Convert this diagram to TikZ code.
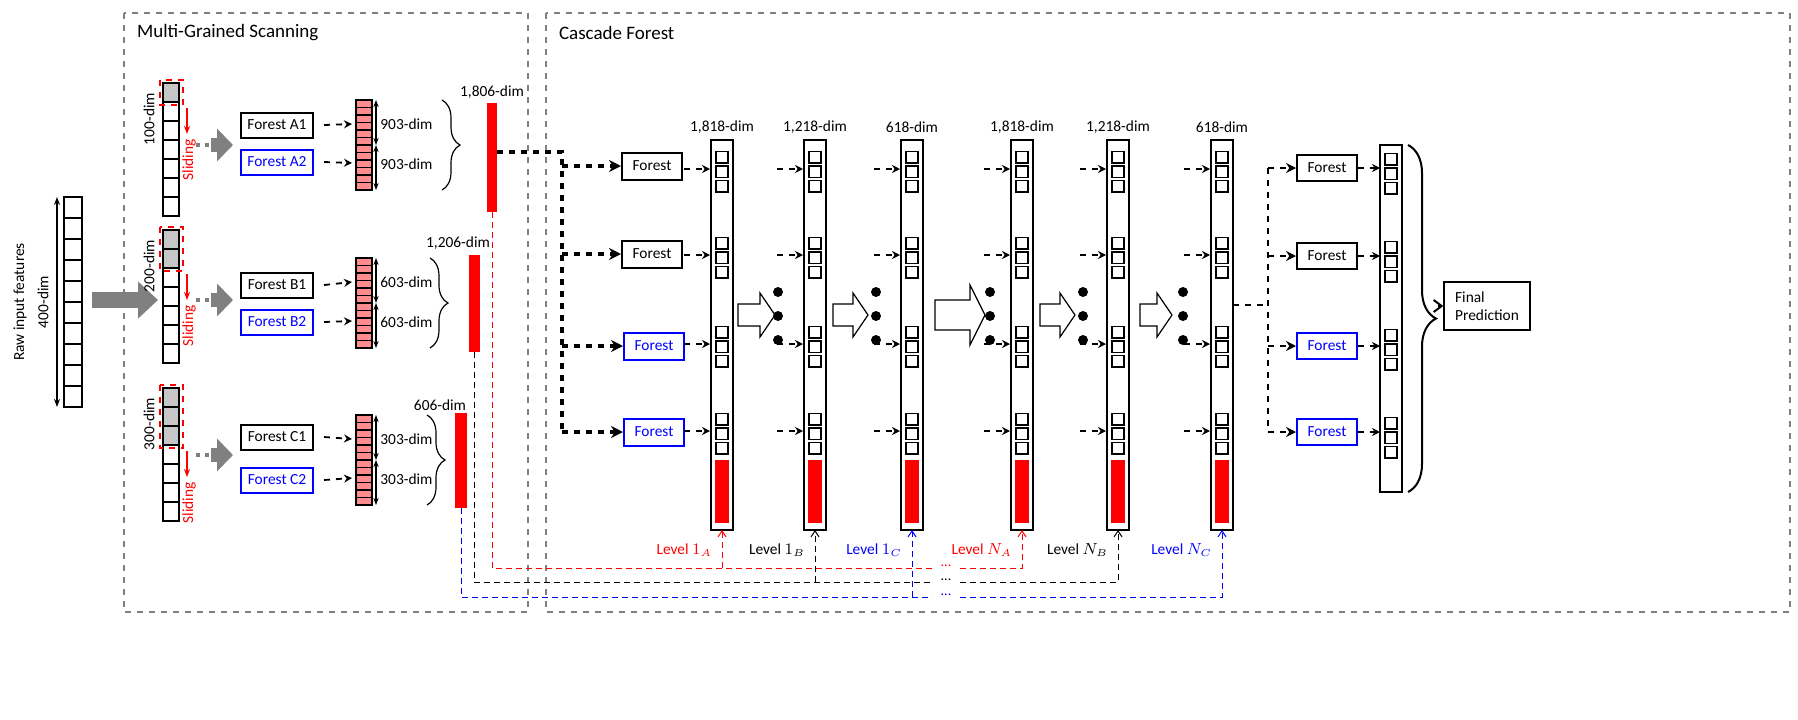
\documentclass[tikz,border=0pt]{standalone}
\usepackage{fontspec}
\setmainfont{Carlito}
\usetikzlibrary{arrows.meta,decorations.pathreplacing}
\begin{document}
\begin{tikzpicture}[x=0.5pt,y=-0.5pt,font=\fontsize{7.7}{9}\selectfont,
  frst/.style={draw,line width=1pt,minimum width=36pt,minimum height=12.5pt,inner sep=0pt},
  bfrst/.style={frst,draw=blue,text=blue},
  da/.style={dashed,line width=0.9pt,-{Stealth[length=4pt,width=4pt]}},
  panel/.style={draw=gray,dashed,line width=0.9pt},
  cell/.style={draw,line width=0.9pt},
  sq/.style={draw,line width=0.9pt},
  ln/.style={densely dashed,line width=0.5pt},
  lnar/.style={ln,-{Straight Barb[length=3pt,width=4pt]}},
  dots/.style={font=\fontsize{7}{7}\selectfont,inner sep=0pt},
  garrow/.style={gray,line width=8pt,-{Triangle[length=10pt,width=18pt]}}]
\useasboundingbox (0,0) rectangle (1798,719);
% panels
\draw[panel] (124,13) rectangle (528,612);
\draw[panel] (546,13) rectangle (1790,612);
\node[anchor=west,font=\fontsize{9.5}{11}\selectfont] (t1) at (130,33) {Multi-Grained Scanning};
\node[anchor=west,font=\fontsize{9.5}{11}\selectfont] (t2) at (552,33) {Cascade Forest};
% raw input
\foreach \i in {0,...,9} \draw[cell] (64,197+\i*21) rectangle ++(18,21);
\draw[line width=0.9pt,{Stealth[length=4pt]}-{Stealth[length=4pt]}] (57,197) -- (57,407);
\node[rotate=90] (d400) at (43,302) {400-dim};
\node[rotate=90] (raw) at (20,302) {Raw input features};
\draw[garrow] (92,300) -- (158,300);
% scanners
\foreach \yt/\n/\dim/\ya in {83/1/100/145, 230/2/200/300, 388/3/300/455}{
  \foreach \i in {0,...,6}{
    \ifnum\i<\n \draw[cell,fill=gray!45] (163,\yt+\i*19) rectangle ++(16,19);
    \else \draw[cell] (163,\yt+\i*19) rectangle ++(16,19); \fi}
  \draw[red,dashed,line width=1pt] (160,\yt-3) rectangle (183,\yt+\n*19+3);
  \draw[red,line width=1pt,-{Stealth[length=4pt]}] (187,\yt+\n*19+6) -- ++(0,26);
  \node[red,rotate=90] at (189,\yt+\n*19+58) {Sliding};
  \node[rotate=90] at (149,\yt+36) {\dim-dim};
  \draw[gray,line width=2pt,dash pattern=on 2pt off 2.5pt] (196,\ya) -- (209,\ya);
  \draw[gray,line width=7pt,-{Triangle[length=8pt,width=16pt]}] (211,\ya) -- (233,\ya);
}
% forests in scanning
\node[frst] (fa1) at (277,125) {Forest A1};
\node[bfrst] (fa2) at (277,162) {Forest A2};
\node[frst] (fb1) at (277,285) {Forest B1};
\node[bfrst] (fb2) at (277,322) {Forest B2};
\node[frst] (fc1) at (277,437) {Forest C1};
\node[bfrst] (fc2) at (277,480) {Forest C2};
% pink columns
\foreach \yt/\d/\f/\g in {100/903/fa1/fa2, 258/603/fb1/fb2, 415/303/fc1/fc2}{
  \foreach \i in {0,...,11} \draw[line width=0.6pt,fill=red!45] (356,\yt+\i*7.5) rectangle ++(16,7.5);
  \draw[line width=1.4pt] (356,\yt+45) -- (372,\yt+45);
  \draw[line width=0.8pt,{Stealth[length=3.5pt]}-{Stealth[length=3.5pt]}] (376,\yt) -- (376,\yt+45);
  \draw[line width=0.8pt,{Stealth[length=3.5pt]}-{Stealth[length=3.5pt]}] (376,\yt+45) -- (376,\yt+90);
  \node[anchor=west,inner sep=1pt] at (378,\yt+24) {\d-dim};
  \node[anchor=west,inner sep=1pt] at (378,\yt+64) {\d-dim};
  \coordinate (p1) at (352,\yt+24); \coordinate (p2) at (352,\yt+63);
  \draw[da] ([xshift=5pt]\f.east) -- (p1);
  \draw[da] ([xshift=5pt]\g.east) -- (p2);
}
\draw[decorate,decoration={brace,amplitude=9pt},line width=0.6pt] (442,100) -- (442,190);
\draw[decorate,decoration={brace,amplitude=9pt},line width=0.6pt] (430,258) -- (430,348);
\draw[decorate,decoration={brace,amplitude=9pt},line width=0.6pt] (427,415) -- (427,505);
% red bars
\fill[red] (487,103) rectangle (497,212);
\fill[red] (469,255) rectangle (480,352);
\fill[red] (455,413) rectangle (467,508);
\node at (492,92) {1,806-dim};
\node at (458,243) {1,206-dim};
\node at (440,405) {606-dim};
% cascade first forests
\node[frst,minimum width=30pt,minimum height=13.5pt] (k1) at (652,166) {Forest};
\node[frst,minimum width=30pt,minimum height=13.5pt] (k2) at (652,254) {Forest};
\node[bfrst,minimum width=30pt,minimum height=13.5pt] (k3) at (654,346) {Forest};
\node[bfrst,minimum width=30pt,minimum height=13.5pt] (k4) at (654,432) {Forest};
\coordinate (br) at (562,152);
\draw[dashed,line width=1.6pt] (497,152) -- (br) -- (562,432);
\foreach \k in {k1,k2,k3,k4} \draw[dashed,line width=1.6pt,-{Stealth[length=6pt,width=6pt]}] (br |- \k.west) -- (\k.west);
% cascade columns
\foreach \cx/\lab in {722/{1,818},815/{1,218},912/618,1022/{1,818},1118/{1,218},1222/618}{
  \draw[line width=1pt] (\cx-11,140) rectangle (\cx+11,530);
  \foreach \g in {150,236,325,412}{
    \foreach \j in {0,1,2} \draw[sq] (\cx-6,\g+\j*14.5+1.5) rectangle ++(12,11.5);
    \draw[dashed,line width=0.9pt,-{Stealth[length=4pt,width=4pt]}] (\cx-38,\g+19) -- (\cx-12,\g+19);
  }
  \fill[red] (\cx-7,460) rectangle (\cx+7,523);
  \node at (\cx,127) {\lab-dim};
}
% block arrows and dots
\foreach \xa/\xb/\hs/\hh/\dx in {738/775/11/22/778, 833/868/11/22/876, 935/985/15/30/990, 1040/1075/11/22/1083, 1140/1172/11/22/1183}{
  \draw[fill=white,line width=0.6pt] (\xa,315-\hs) -- (\xb-15,315-\hs) -- (\xb-15,315-\hh) -- (\xb,315) -- (\xb-15,315+\hh) -- (\xb-15,315+\hs) -- (\xa,315+\hs) -- cycle;
  \foreach \dy in {292,316,340} \fill (\dx,\dy) circle (5);
}
% last stage forests
\node[frst,minimum width=30pt,minimum height=13pt] (m1) at (1327,168) {Forest};
\node[frst,minimum width=30pt,minimum height=13pt] (m2) at (1327,256) {Forest};
\node[bfrst,minimum width=30pt,minimum height=13pt] (m3) at (1327,346) {Forest};
\node[bfrst,minimum width=30pt,minimum height=13pt] (m4) at (1327,432) {Forest};
\coordinate (vb) at (1268,305);
\draw[dashed,line width=1pt] (1233,305) -- (vb);
\draw[dashed,line width=1pt] (1268,168) -- (1268,432);
\foreach \k in {m1,m2,m3,m4}{
  \draw[dashed,line width=1pt,-{Stealth[length=5pt,width=5pt]}] (vb |- \k.west) -- (\k.west);
  \draw[dashed,line width=1pt,-{Stealth[length=4pt,width=4pt]}] (\k.east) -- ++(11pt,0);
}
\draw[line width=1pt] (1380,145) rectangle (1402,492);
\foreach \g in {152,240,328,416}
  \foreach \j in {0,1,2} \draw[sq] (1385,\g+\j*14.5+1.5) rectangle ++(12,11.5);
\draw[decorate,decoration={brace,amplitude=14pt},line width=1pt] (1408,145) -- (1408,492);
\node[draw,line width=0.7pt,align=left,minimum width=43pt,minimum height=24pt,inner sep=2pt] (fp) at (1487,306) {Final\\Prediction};
\draw[line width=1pt,-{Straight Barb[length=4pt,width=6pt]}] (1438,306) -- (fp.west);
% feedback lines
\draw[ln,red] (492,212) |- (932,568);
\draw[lnar,red] (722,568) -- (722,530);
\draw[lnar,red] (960,568) -| (1022,530);
\draw[ln] (474,352) |- (932,582);
\draw[lnar] (815,582) -- (815,530);
\draw[lnar] (960,582) -| (1118,530);
\draw[ln,blue] (461,508) |- (932,597);
\draw[lnar,blue] (912,597) -- (912,530);
\draw[lnar,blue] (960,597) -| (1222,530);
\node[dots,red] at (946,566) {...};
\node[dots] at (946,580) {...};
\node[dots,blue] at (946,595) {...};
% level labels
\node[red,anchor=east] at (719,550) {Level $1_A$};
\node[anchor=east] at (812,550) {Level $1_B$};
\node[blue,anchor=east] at (909,550) {Level $1_C$};
\node[red,anchor=east] at (1019,550) {Level $N_A$};
\node[anchor=east] at (1115,550) {Level $N_B$};
\node[blue,anchor=east] at (1219,550) {Level $N_C$};
\end{tikzpicture}
\end{document}
